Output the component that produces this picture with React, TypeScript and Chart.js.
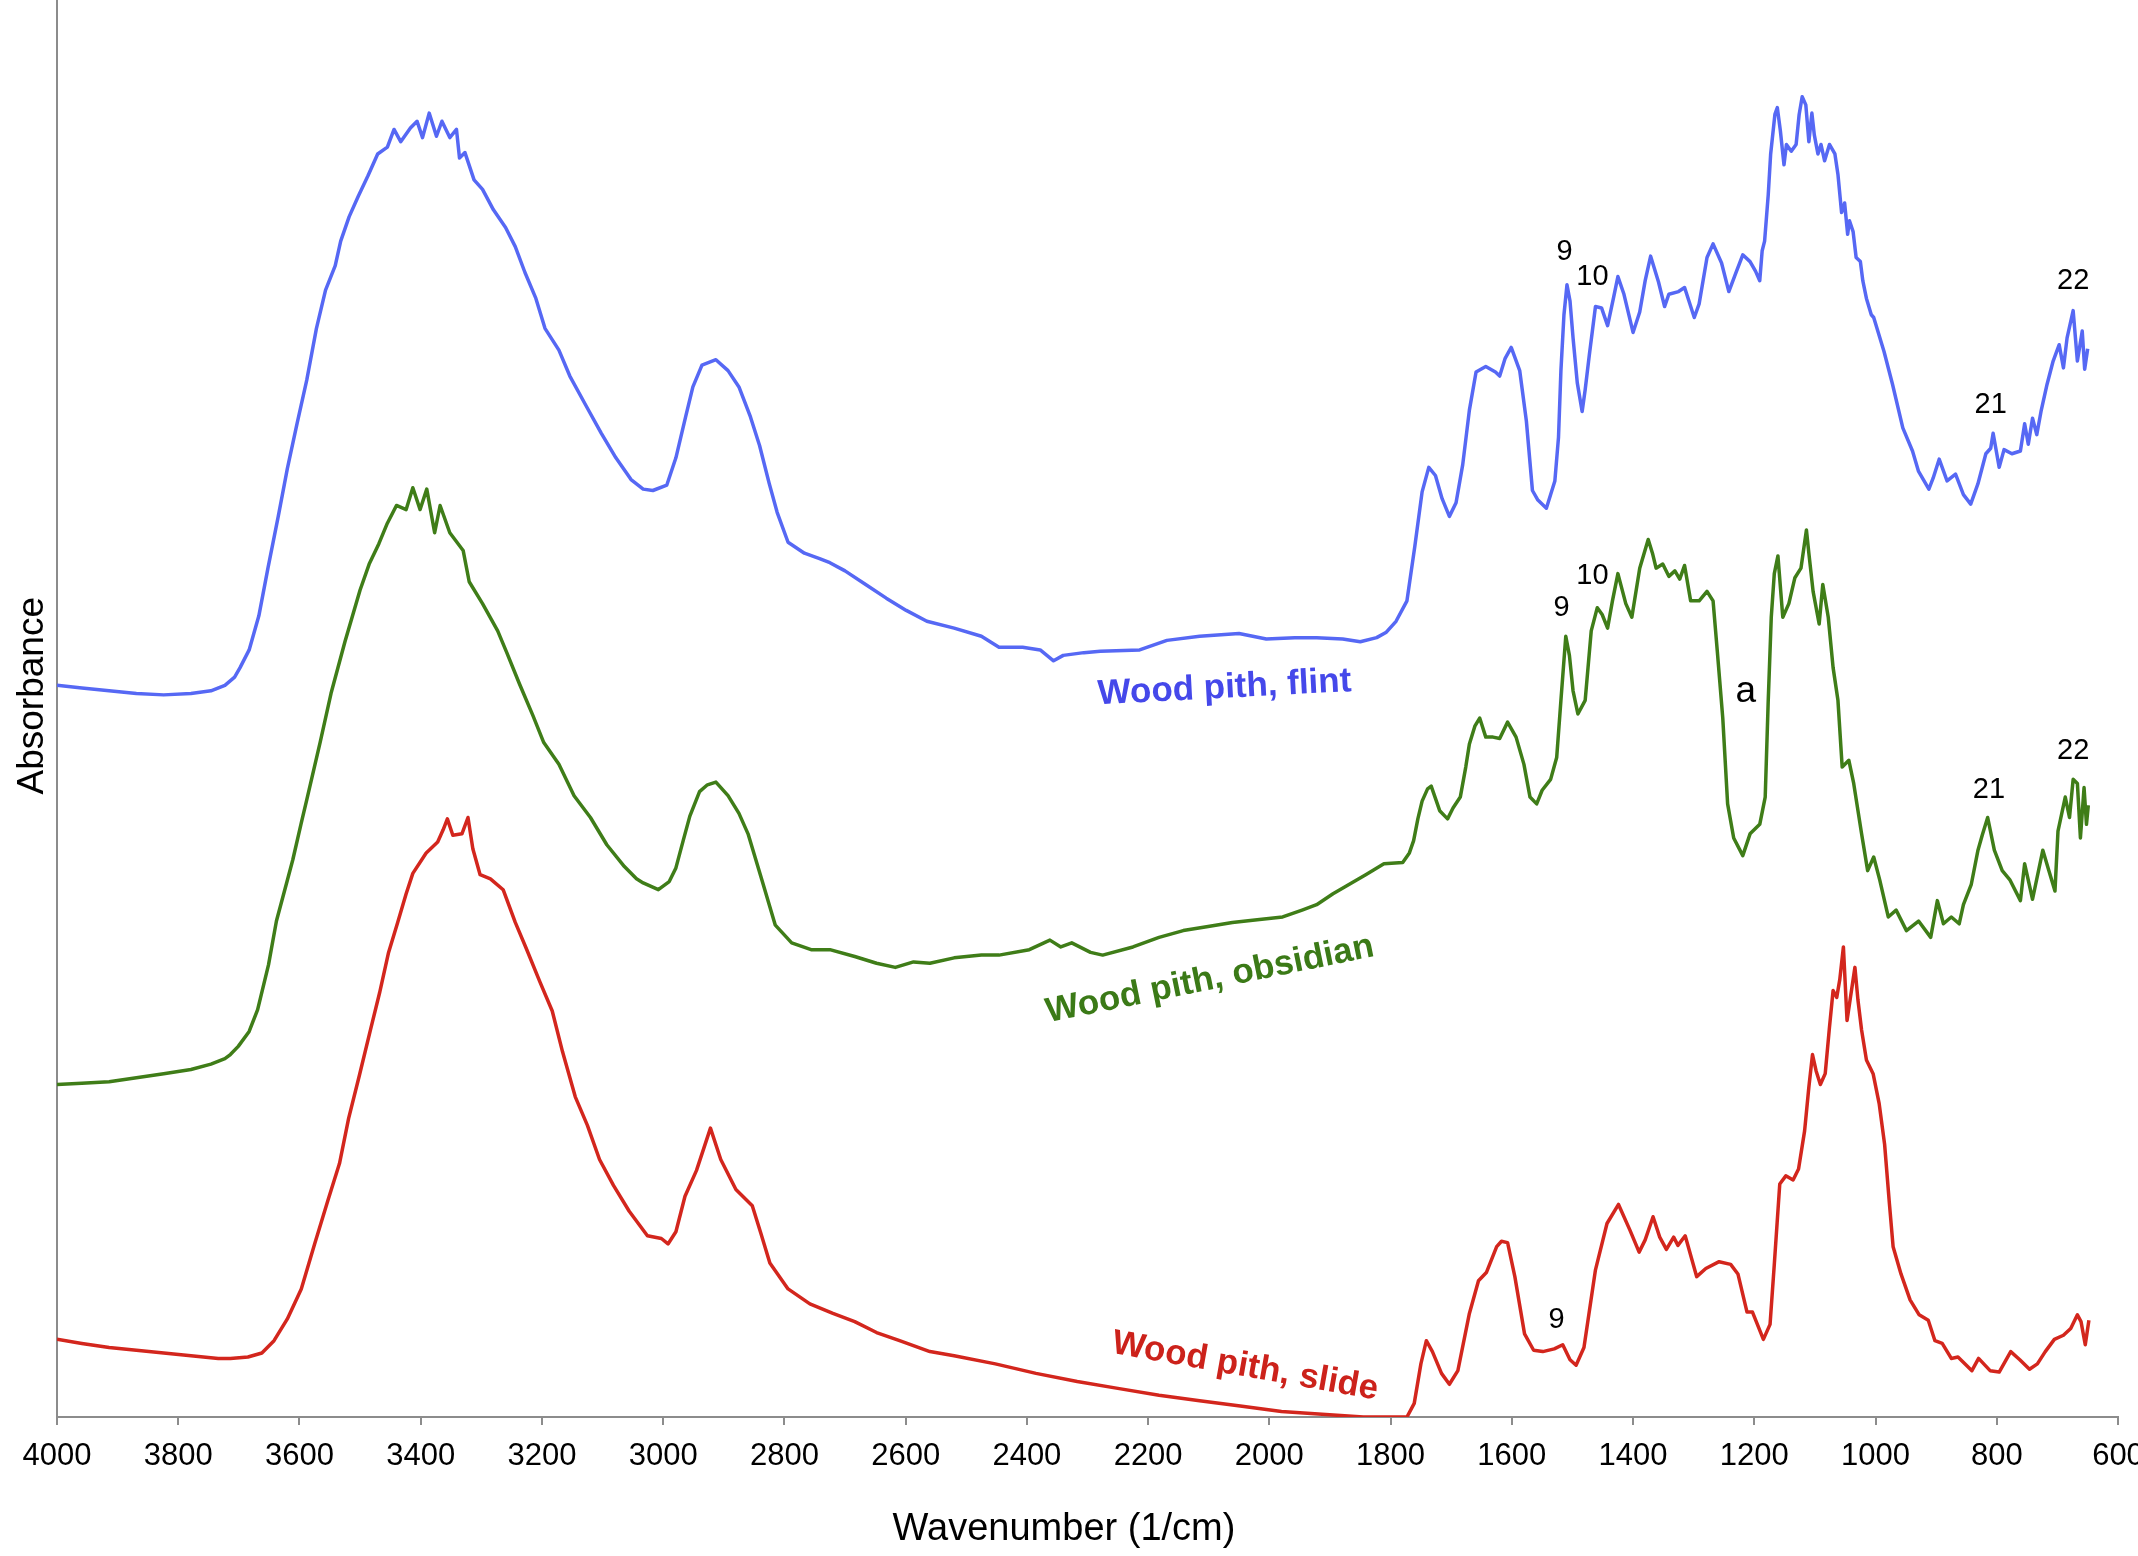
import React, { useEffect, useRef } from "react";
import { Chart, registerables } from "chart.js";

Chart.register(...registerables);

// ---------- data (wavenumber cm-1, absorbance a.u.) ----------
const wavenumberTicks = [4000, 3800, 3600, 3400, 3200, 3000, 2800, 2600, 2400, 2200, 2000, 1800, 1600, 1400, 1200, 1000, 800, 600];

const seriesNames = ["Wood pith, flint", "Wood pith, obsidian", "Wood pith, slide"];
const axisTitles = { x: "Wavenumber (1/cm)", y: "Absorbance" };

const flintSpectrum: number[][] = [
  [4000,.537],[3959,.535],[3914,.533],[3869,.531],[3824,.530],[3779,.531],[3746,.533],[3723,.537],[3707,.543],[3698,.550],[3683,.563],[3667,.588],[3652,.623],[3635,.661],[3620,.696],[3604,.729],[3588,.761],[3572,.799],[3557,.827],[3541,.845],[3532,.863],[3518,.881],[3503,.896],[3487,.911],[3471,.927],[3455,.932],[3444,.945],[3433,.936],[3417,.946],[3406,.951],[3397,.939],[3386,.957],[3374,.940],[3365,.951],[3352,.939],[3341,.945],[3336,.924],[3327,.928],[3312,.908],[3298,.901],[3280,.886],[3260,.873],[3244,.859],[3228,.840],[3210,.821],[3195,.799],[3172,.783],[3154,.764],[3127,.742],[3102,.722],[3078,.704],[3053,.688],[3033,.681],[3017,.680],[2994,.684],[2979,.704],[2963,.734],[2951,.756],[2936,.772],[2913,.776],[2893,.768],[2875,.756],[2856,.734],[2841,.713],[2825,.685],[2812,.664],[2794,.642],[2767,.634],[2742,.630],[2725,.627],[2700,.621],[2666,.611],[2632,.601],[2599,.592],[2565,.584],[2520,.579],[2475,.573],[2446,.565],[2407,.565],[2378,.563],[2367,.559],[2356,.555],[2340,.559],[2306,.561],[2279,.562],[2214,.563],[2169,.570],[2115,.573],[2050,.575],[2005,.571],[1958,.572],[1922,.572],[1879,.571],[1850,.569],[1823,.572],[1807,.576],[1791,.584],[1773,.599],[1760,.639],[1748,.679],[1737,.697],[1726,.691],[1715,.674],[1703,.661],[1692,.671],[1681,.699],[1670,.739],[1659,.767],[1643,.771],[1627,.767],[1620,.764],[1611,.777],[1601,.785],[1587,.768],[1576,.731],[1566,.680],[1557,.673],[1543,.667],[1529,.687],[1523,.719],[1519,.768],[1514,.809],[1509,.831],[1504,.819],[1499,.792],[1492,.759],[1484,.738],[1479,.754],[1472,.780],[1462,.815],[1452,.814],[1442,.801],[1432,.822],[1425,.837],[1415,.824],[1400,.796],[1389,.811],[1380,.834],[1371,.852],[1358,.833],[1348,.815],[1341,.824],[1325,.826],[1315,.829],[1299,.807],[1291,.817],[1278,.851],[1268,.861],[1254,.847],[1242,.826],[1231,.839],[1219,.853],[1207,.848],[1198,.841],[1191,.834],[1187,.856],[1183,.863],[1177,.897],[1173,.927],[1166,.956],[1162,.961],[1157,.944],[1151,.919],[1147,.934],[1139,.929],[1131,.934],[1126,.956],[1121,.969],[1115,.963],[1110,.936],[1105,.957],[1101,.941],[1095,.927],[1090,.934],[1084,.922],[1076,.934],[1067,.927],[1062,.912],[1056,.884],[1051,.891],[1046,.868],[1043,.878],[1037,.870],[1032,.851],[1025,.848],[1021,.834],[1015,.821],[1007,.809],[1003,.807],[986,.782],[972,.758],[955,.726],[939,.709],[929,.694],[912,.681],[905,.689],[895,.703],[882,.687],[868,.692],[855,.677],[843,.670],[831,.685],[818,.707],[810,.711],[806,.722],[796,.697],[788,.710],[775,.707],[761,.709],[754,.729],[748,.714],[741,.733],[734,.721],[727,.738],[717,.758],[707,.775],[697,.787],[690,.770],[684,.792],[674,.812],[667,.775],[659,.797],[655,.769],[650,.784]
];

const obsidianSpectrum: number[][] = [
  [4000,.244],[3959,.245],[3914,.246],[3869,.249],[3824,.252],[3779,.255],[3746,.259],[3723,.263],[3714,.266],[3701,.272],[3683,.283],[3669,.299],[3651,.332],[3638,.364],[3620,.394],[3611,.409],[3597,.436],[3588,.453],[3566,.495],[3548,.531],[3525,.569],[3500,.607],[3485,.626],[3469,.641],[3455,.656],[3440,.669],[3424,.666],[3413,.682],[3401,.666],[3390,.681],[3377,.649],[3368,.669],[3352,.649],[3330,.636],[3320,.613],[3298,.597],[3273,.577],[3258,.561],[3237,.538],[3215,.515],[3197,.495],[3172,.479],[3147,.456],[3120,.440],[3093,.420],[3064,.404],[3044,.395],[3033,.392],[3008,.387],[2990,.393],[2979,.403],[2967,.423],[2956,.441],[2940,.459],[2927,.464],[2913,.466],[2893,.456],[2875,.443],[2860,.428],[2837,.394],[2815,.361],[2788,.348],[2756,.343],[2725,.343],[2684,.338],[2648,.333],[2617,.330],[2587,.334],[2560,.333],[2520,.337],[2475,.339],[2446,.339],[2396,.343],[2362,.350],[2344,.345],[2326,.348],[2295,.341],[2275,.339],[2225,.345],[2182,.352],[2142,.357],[2101,.360],[2061,.363],[2020,.365],[1978,.367],[1946,.372],[1922,.376],[1895,.384],[1868,.391],[1841,.398],[1811,.406],[1780,.407],[1769,.414],[1762,.423],[1755,.439],[1748,.452],[1739,.461],[1733,.463],[1726,.454],[1719,.445],[1706,.439],[1697,.447],[1685,.455],[1676,.477],[1670,.494],[1661,.507],[1653,.513],[1643,.499],[1631,.499],[1620,.498],[1607,.510],[1593,.499],[1580,.479],[1570,.455],[1559,.450],[1550,.460],[1536,.468],[1526,.484],[1519,.526],[1511,.573],[1505,.559],[1499,.533],[1491,.516],[1479,.526],[1469,.577],[1459,.594],[1451,.589],[1442,.579],[1434,.599],[1425,.619],[1412,.597],[1402,.587],[1389,.623],[1375,.644],[1368,.634],[1362,.623],[1351,.626],[1341,.617],[1331,.621],[1323,.615],[1315,.625],[1305,.599],[1291,.599],[1278,.606],[1268,.599],[1261,.562],[1252,.513],[1244,.450],[1234,.425],[1219,.412],[1207,.428],[1191,.435],[1182,.455],[1177,.526],[1172,.587],[1167,.619],[1161,.632],[1153,.587],[1143,.597],[1133,.616],[1123,.623],[1114,.651],[1110,.634],[1103,.606],[1093,.582],[1087,.611],[1078,.587],[1070,.550],[1062,.526],[1055,.477],[1044,.482],[1036,.465],[1023,.428],[1013,.401],[1003,.411],[993,.394],[979,.367],[966,.372],[949,.357],[929,.364],[909,.352],[898,.379],[888,.362],[875,.367],[862,.362],[855,.376],[842,.391],[831,.416],[824,.427],[815,.440],[804,.416],[791,.401],[778,.394],[761,.379],[754,.406],[741,.380],[724,.416],[714,.401],[704,.386],[699,.430],[687,.455],[680,.440],[674,.468],[667,.465],[662,.425],[656,.462],[652,.435],[649,.449]
];

const slideSpectrum: number[][] = [
  [4000,.057],[3959,.054],[3914,.051],[3869,.049],[3824,.047],[3779,.045],[3734,.043],[3714,.043],[3685,.044],[3662,.047],[3642,.056],[3620,.072],[3597,.094],[3575,.127],[3553,.159],[3534,.186],[3519,.219],[3501,.251],[3483,.284],[3468,.311],[3453,.341],[3438,.363],[3424,.384],[3413,.399],[3391,.414],[3372,.422],[3363,.431],[3356,.439],[3347,.427],[3332,.428],[3322,.440],[3314,.417],[3302,.398],[3285,.395],[3264,.387],[3244,.363],[3226,.344],[3203,.319],[3183,.298],[3166,.268],[3145,.235],[3125,.214],[3105,.189],[3082,.170],[3056,.151],[3026,.133],[3003,.131],[2992,.127],[2979,.136],[2964,.162],[2945,.181],[2922,.212],[2905,.189],[2880,.167],[2853,.155],[2839,.135],[2824,.113],[2794,.094],[2758,.083],[2720,.076],[2684,.070],[2648,.062],[2610,.056],[2560,.048],[2520,.045],[2452,.039],[2385,.032],[2317,.026],[2250,.021],[2182,.016],[2115,.012],[2048,.008],[1980,.004],[1913,.002],[1845,.000],[1818,.000],[1773,.000],[1761,.010],[1750,.039],[1741,.056],[1731,.048],[1716,.032],[1703,.024],[1689,.034],[1670,.076],[1655,.100],[1642,.106],[1625,.125],[1617,.129],[1607,.128],[1595,.103],[1579,.061],[1564,.049],[1549,.048],[1530,.050],[1516,.053],[1504,.042],[1494,.038],[1481,.051],[1462,.108],[1443,.142],[1424,.156],[1405,.137],[1390,.121],[1380,.130],[1367,.147],[1356,.132],[1345,.123],[1333,.132],[1326,.126],[1314,.133],[1295,.103],[1280,.109],[1258,.114],[1239,.112],[1227,.105],[1212,.077],[1203,.077],[1185,.057],[1174,.068],[1167,.112],[1158,.171],[1148,.177],[1136,.174],[1127,.182],[1117,.210],[1110,.242],[1104,.266],[1098,.254],[1091,.244],[1083,.252],[1076,.286],[1070,.313],[1064,.308],[1059,.321],[1053,.345],[1047,.291],[1042,.306],[1034,.330],[1029,.306],[1023,.284],[1015,.262],[1004,.252],[994,.230],[985,.200],[977,.156],[971,.125],[958,.105],[943,.086],[928,.075],[913,.071],[902,.056],[890,.054],[875,.043],[864,.044],[841,.034],[830,.043],[811,.034],[796,.033],[777,.048],[762,.042],[746,.035],[733,.039],[720,.048],[705,.057],[690,.060],[678,.065],[667,.075],[661,.070],[654,.053],[648,.071]
];

// curve name labels: [wavenumber, absorbance, angle(deg)]
const curveLabelAnchors: number[][] = [
  [2074, 0.535, -3],
  [2098, 0.321, -11.5],
  [2040, 0.037, 10],
];

// band labels: text, wavenumber, absorbance
const bandLabels: [string, number, number][] = [
  ["9", 1513, 0.855], ["10", 1467, 0.837], ["21", 810, 0.743], ["22", 674, 0.834],
  ["9", 1518, 0.594], ["10", 1467, 0.617], ["21", 813, 0.460], ["22", 674, 0.489],
  ["9", 1526, 0.071],
];
const letterLabels: [string, number, number][] = [["a", 1214, 0.532]];

// ---------- styles ----------
const FONT = "'Liberation Sans', Arial, Helvetica, sans-serif";
const lineColors = ["#5668f4", "#3f7d18", "#d3261d"];
const labelColors = ["#4548ea", "#3b7a17", "#cc221b"];
const AXIS_GREY = "#8c8c8c";

const labelPlugin = {
  id: "spectrumLabels",
  afterDatasetsDraw(chart: any) {
    const { ctx, scales, chartArea } = chart;
    const xs = scales.x, ys = scales.y;
    ctx.save();
    ctx.textAlign = "center";
    ctx.textBaseline = "middle";
    curveLabelAnchors.forEach((a, i) => {
      ctx.save();
      ctx.translate(xs.getPixelForValue(a[0]), ys.getPixelForValue(a[1]));
      ctx.rotate((a[2] * Math.PI) / 180);
      ctx.font = `bold 35px ${FONT}`;
      ctx.fillStyle = labelColors[i];
      ctx.fillText(seriesNames[i], 0, 0);
      ctx.restore();
    });
    ctx.fillStyle = "#000";
    ctx.font = `29px ${FONT}`;
    bandLabels.forEach(([t, w, v]) => {
      ctx.fillText(t, xs.getPixelForValue(w), ys.getPixelForValue(v));
    });
    ctx.font = `37px ${FONT}`;
    letterLabels.forEach(([t, w, v]) => {
      ctx.fillText(t, xs.getPixelForValue(w), ys.getPixelForValue(v));
    });
    // axis titles
    ctx.font = `38px ${FONT}`;
    ctx.fillText(axisTitles.x, chartArea.left + (chartArea.right - chartArea.left) * 0.4886, chartArea.bottom + 113);
    ctx.save();
    ctx.translate(chartArea.left - 24, chartArea.top + (chartArea.bottom - chartArea.top) * 0.491);
    ctx.rotate(-Math.PI / 2);
    ctx.font = `37px ${FONT}`;
    ctx.fillText(axisTitles.y, 0, 0);
    ctx.restore();
    ctx.restore();
  },
};

export default function App() {
  const canvasRef = useRef<HTMLCanvasElement>(null);

  useEffect(() => {
    if (!canvasRef.current) return;
    const spectra = [flintSpectrum, obsidianSpectrum, slideSpectrum];
    const chart = new Chart(canvasRef.current, {
      type: "line",
      data: {
        datasets: spectra.map((s, i) => ({
          label: seriesNames[i],
          data: s.map(([x, y]) => ({ x, y })),
          borderColor: lineColors[i],
          backgroundColor: lineColors[i],
          borderWidth: 3.5,
          pointRadius: 0,
          tension: 0,
          fill: false,
          borderJoinStyle: "round" as const,
        })),
      },
      options: {
        animation: false,
        responsive: false,
        devicePixelRatio: 1,
        parsing: false,
        normalized: true,
        layout: { padding: { left: 0, right: 20, top: 0, bottom: 0 } },
        plugins: { legend: { display: false }, tooltip: { enabled: false }, title: { display: false } },
        scales: {
          x: {
            type: "linear",
            reverse: true,
            min: 600,
            max: 4000,
            afterBuildTicks: (s: any) => {
              s.ticks = wavenumberTicks.map((v) => ({ value: v }));
            },
            afterFit: (s: any) => {
              s.height = 139;
              s.paddingLeft = 0;
              s.paddingRight = 0;
            },
            ticks: {
              autoSkip: false,
              maxRotation: 0,
              minRotation: 0,
              color: "#000",
              padding: 13,
              font: { family: FONT, size: 31 },
              callback: (v: any) => String(v),
            },
            grid: { drawOnChartArea: false, drawTicks: true, tickLength: 8, color: AXIS_GREY, lineWidth: 2 },
            border: { display: true, color: AXIS_GREY, width: 2 },
            title: { display: false, text: axisTitles.x },
          },
          y: {
            type: "linear",
            min: 0,
            max: 1.04,
            afterFit: (s: any) => {
              s.width = 57;
            },
            ticks: { display: false },
            grid: { display: false },
            border: { display: true, color: AXIS_GREY, width: 2 },
            title: { display: false, text: axisTitles.y },
          },
        },
      },
      plugins: [labelPlugin],
    } as any);
    return () => chart.destroy();
  }, []);

  return (
    <div style={{ position: "fixed", left: 0, top: 0, width: 2138, height: 1556, background: "#fff" }}>
      <canvas ref={canvasRef} width={2138} height={1556} style={{ display: "block", width: 2138, height: 1556 }} />
    </div>
  );
}
